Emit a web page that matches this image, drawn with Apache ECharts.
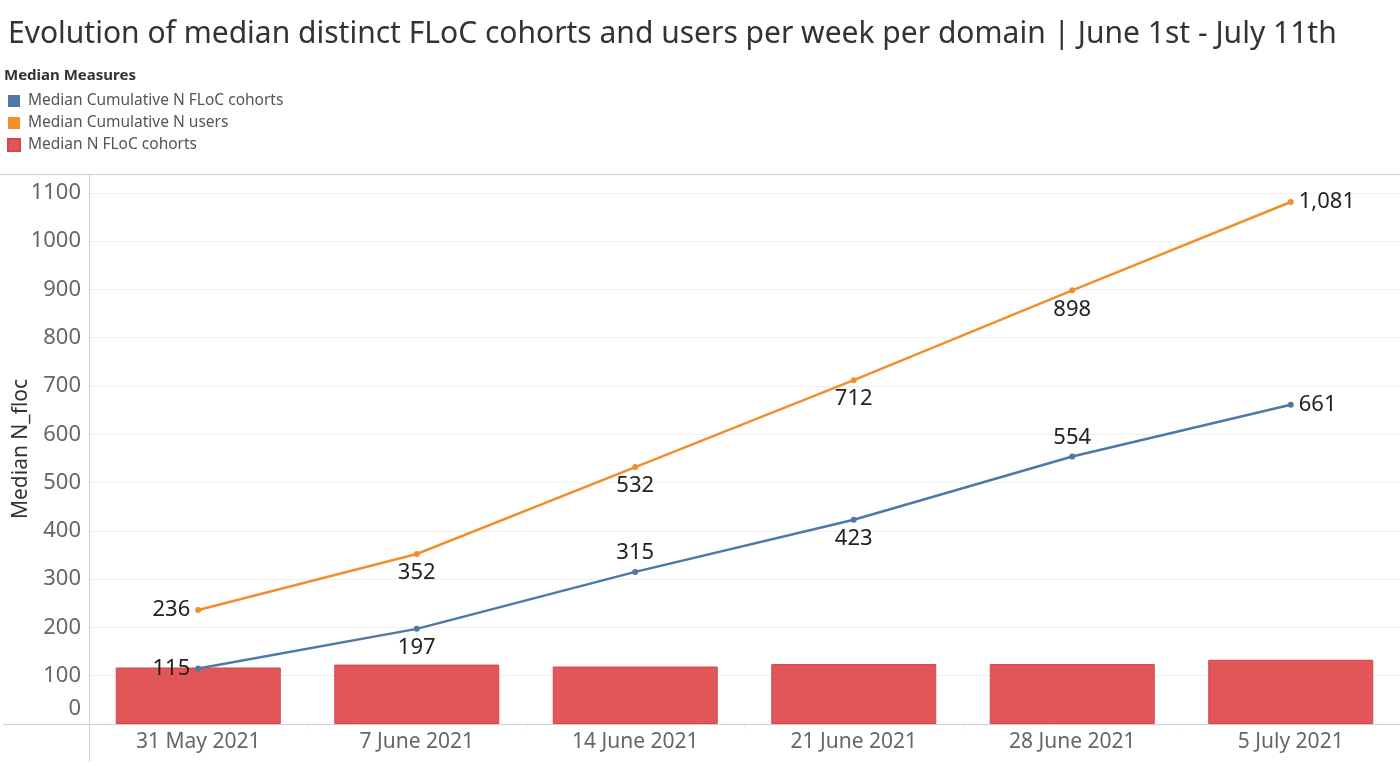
<!DOCTYPE html>
<html>
<head>
<meta charset="utf-8">
<script src="https://cdn.jsdelivr.net/npm/echarts@6/dist/echarts.min.js"></script>
<style>html,body{margin:0;padding:0;background:#fff;}#c{width:1400px;height:766px;}</style>
</head>
<body>
<div id="c"></div>
<script>
var categories = ['31 May 2021', '7 June 2021', '14 June 2021', '21 June 2021', '28 June 2021', '5 July 2021'];
var cumCohorts = [115, 197, 315, 423, 554, 661];
var cumUsers = [236, 352, 532, 712, 898, 1081];
var weeklyCohorts = [117, 123, 119, 124, 124, 133];
var cohortLabelPos = ['left', 'bottom', 'top', 'bottom', 'top', 'right'];
var userLabelPos = ['left', 'bottom', 'bottom', 'bottom', 'bottom', 'right'];
var yTicks = [0, 100, 200, 300, 400, 500, 600, 700, 800, 900, 1000, 1100];

var FONT = 'Noto Sans';
function fmt(v) { return String(v).replace(/\B(?=(\d{3})+(?!\d))/g, ','); }
function lineData(vals, pos) {
  return vals.map(function (v, i) {
    return { value: v, label: { position: pos[i], distance: 5 } };
  });
}

var chart = echarts.init(document.getElementById('c'));
chart.setOption({
  animation: false,
  textStyle: { fontFamily: FONT },
  title: {
    text: 'Evolution of median distinct FLoC cohorts and users per week per domain | June 1st - July 11th',
    left: 3, top: 14,
    textStyle: { fontFamily: FONT, fontSize: 30, fontWeight: 'normal', color: '#333' }
  },
  legend: {
    orient: 'vertical', left: 2, top: 88,
    itemWidth: 12, itemHeight: 12, itemGap: 6,
    icon: 'rect',
    textStyle: { fontFamily: FONT, fontSize: 15.5, color: '#555', padding: [0, 0, 0, 3] },
    data: ['Median Cumulative N FLoC cohorts', 'Median Cumulative N users', 'Median N FLoC cohorts']
  },
  graphic: [
    { type: 'text', left: 4, top: 68, style: { text: 'Median Measures', font: 'bold 15px "Noto Sans"', fill: '#333' } },
    { type: 'line', shape: { x1: 0, y1: 174.5, x2: 1400, y2: 174.5 }, style: { stroke: '#cfcfcf', lineWidth: 1 }, z: 10 },
    { type: 'line', shape: { x1: 89.5, y1: 174, x2: 89.5, y2: 762 }, style: { stroke: '#cfcfcf', lineWidth: 1 }, z: 10 },
    { type: 'line', shape: { x1: 3, y1: 724.5, x2: 1400, y2: 724.5 }, style: { stroke: '#cfcfcf', lineWidth: 1 }, z: 10 }
  ],
  grid: { left: 89, right: 0, top: 174, bottom: 42, containLabel: false, outerBoundsMode: 'none' },
  xAxis: {
    type: 'category',
    data: categories,
    axisLine: { show: false },
    axisTick: { show: true, length: 5, lineStyle: { color: '#eeeeee' } },
    axisLabel: { fontFamily: FONT, fontSize: 21, color: '#666', margin: 8 }
  },
  yAxis: {
    type: 'value',
    min: 0, max: 1139, interval: 100,
    name: 'Median N_floc',
    nameLocation: 'middle', nameGap: 57, nameRotate: 90, nameMoveOverlap: false,
    nameTextStyle: { fontFamily: FONT, fontSize: 21, color: '#333' },
    axisLine: { show: false },
    axisTick: { show: false },
    splitLine: { lineStyle: { color: '#f0f0f0' } },
    axisLabel: {
      fontFamily: FONT, fontSize: 22, color: '#666', margin: 8,
      customValues: yTicks,
      formatter: function (v) { return v === 0 ? '{z|0}' : String(v); },
      rich: { z: { fontFamily: FONT, fontSize: 22, color: '#666', padding: [0, 0, 30, 0] } }
    }
  },
  series: [
    {
      name: 'Median N FLoC cohorts', type: 'bar',
      data: weeklyCohorts, barWidth: 165,
      itemStyle: { color: '#e15759', borderColor: '#d9434a', borderWidth: 1 },
      z: 1
    },
    {
      name: 'Median Cumulative N FLoC cohorts', type: 'line',
      data: lineData(cumCohorts, cohortLabelPos),
      color: '#4e79a7',
      lineStyle: { width: 2.5, color: '#4e79a7' },
      symbol: 'circle', symbolSize: 6,
      itemStyle: { color: '#4e79a7' },
      label: { show: true, fontFamily: FONT, fontSize: 22, color: '#222', formatter: function (p) { return fmt(p.value); } },
      z: 3
    },
    {
      name: 'Median Cumulative N users', type: 'line',
      data: lineData(cumUsers, userLabelPos),
      color: '#f28e2b',
      lineStyle: { width: 2.5, color: '#f28e2b' },
      symbol: 'circle', symbolSize: 6,
      itemStyle: { color: '#f28e2b' },
      label: { show: true, fontFamily: FONT, fontSize: 22, color: '#222', formatter: function (p) { return fmt(p.value); } },
      z: 3
    }
  ]
});
</script>
</body>
</html>
